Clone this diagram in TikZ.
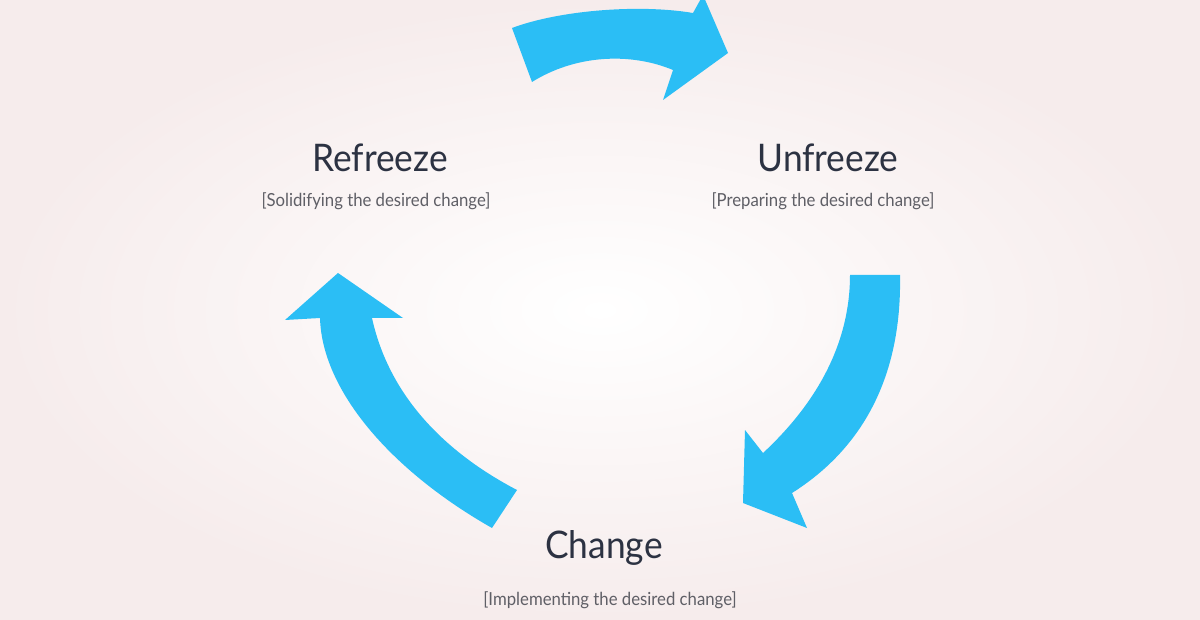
\documentclass[tikz,border=0pt]{standalone}
\usepackage{fontspec}
\setmainfont{Lato}[FakeStretch=0.93]
\usepackage{tikz}
\definecolor{cyclearrow}{RGB}{43,190,245}
\definecolor{titleink}{RGB}{44,50,66}
\definecolor{noteink}{RGB}{95,95,102}
\definecolor{paper}{RGB}{246,236,236}

\begin{document}
\begin{tikzpicture}[x=1pt, y=-1pt,
  bigarrow/.style={fill=cyclearrow, draw=none},
  phase/.style={anchor=base, text=titleink, font=\fontsize{38}{40}\selectfont},
  phasenote/.style={anchor=base, text=noteink, font=\fontsize{18}{20}\selectfont}]
\useasboundingbox (0,0) rectangle (1200,620);
\shade[inner color=white, outer color=paper] (0,0) rectangle (1200,620);

% stage labels
\foreach \nm/\tx/\ty/\sx/\sy/\ttl/\sub in {refreeze/380/172/376/207/Refreeze/{[Solidifying the desired change]},
                                         unfreeze/828/172/823/207/Unfreeze/{[Preparing the desired change]},
                                         change/604/558/610/605/Change/{[Implementing the desired change]}}{
  \node[phase] (\nm) at (\tx,\ty) {\ttl};
  \node[phasenote] (\nm-note) at (\sx,\sy) {\sub};
}

% refreeze -> unfreeze
\fill[bigarrow] (512,28) .. controls (560,10) and (640,4) .. (693,13)
  -- (703,-5) -- (728,53) -- (663,100) -- (673,70)
  .. controls (630,52) and (575,55) .. (532,82) -- cycle;
% unfreeze -> change
\fill[bigarrow] (850,275) -- (900,275) .. controls (902,380) and (860,450) .. (792,493)
  -- (807,528) -- (743,503) -- (745,430) -- (763,453)
  .. controls (820,400) and (850,340) .. (850,275) -- cycle;
% change -> refreeze
\fill[bigarrow] (517,490) -- (492,528) .. controls (390,470) and (322,390) .. (320,318)
  -- (285,320) -- (338,273) -- (403,318) -- (372,318)
  .. controls (390,400) and (450,455) .. (517,490) -- cycle;
\end{tikzpicture}
\end{document}
